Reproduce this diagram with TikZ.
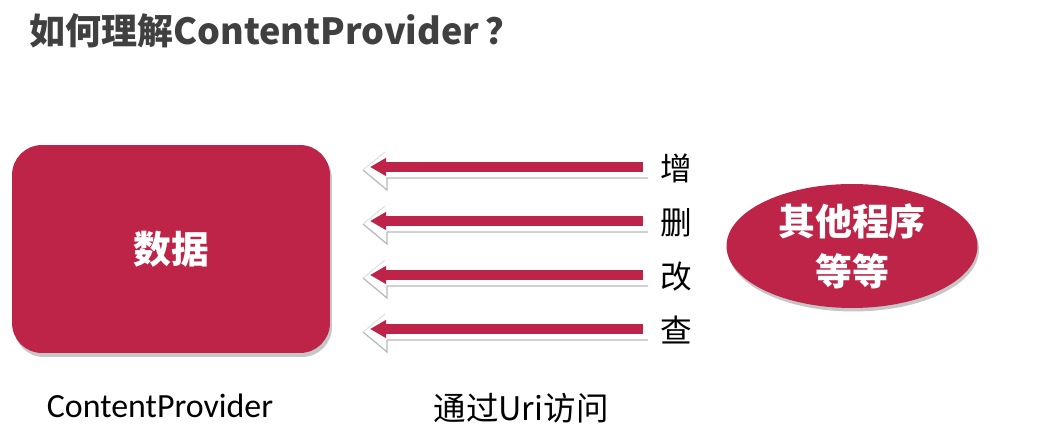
\documentclass[tikz,border=0pt]{standalone}
\usepackage{fontspec}
\setmainfont{Carlito}
\newfontfamily\cjk{Noto Sans CJK SC}
\usetikzlibrary{arrows.meta,shapes.geometric,shadows}
\definecolor{boxred}{RGB}{189,36,71}
\definecolor{titlegray}{RGB}{64,64,64}
\tikzset{
	databox/.style={draw=none,fill=boxred,rounded corners=0.6cm,minimum width=6.36cm,minimum height=4.16cm,
		text=white,font=\cjk\bfseries\fontsize{21.5}{26}\selectfont,
		drop shadow={shadow xshift=0.04cm,shadow yshift=-0.08cm,fill=gray!45,opacity=1}},
	otherbox/.style={ellipse,draw=none,fill=boxred,minimum width=5.02cm,minimum height=2.48cm,inner sep=0pt,
		text=white,align=center,font=\cjk\bfseries\fontsize{21}{28.5}\selectfont,
		drop shadow={shadow xshift=0.03cm,shadow yshift=-0.07cm,fill=gray!45,opacity=1}},
	oplabel/.style={font=\cjk\fontsize{18}{20}\selectfont,inner sep=0pt},
	oparrow/.style={draw=boxred,line width=0.2cm,-{Triangle[length=0.32cm,width=0.34cm]}},
	shadeline/.style={gray!55,line width=0.025cm},
	shadefaint/.style={gray!25,line width=0.02cm}
}
\begin{document}
\begin{tikzpicture}[x=0.02cm,y=-0.02cm]
	\useasboundingbox (0,0) rectangle (1040,445);

	\node[anchor=west,inner sep=0pt,text=titlegray,font=\cjk\bfseries\fontsize{20.5}{22}\selectfont] (title) at (29,31) {如何理解ContentProvider\,？};

	\node[databox] (data) at (171,249) {数据};
	\node[otherbox] (others) at (852,246) {其他程序\\等等};

	\node[oplabel] (add) at (676,168) {增};
	\node[oplabel] (del) at (676,223) {删};
	\node[oplabel] (upd) at (676,277) {改};
	\node[oplabel] (qry) at (676,330) {查};

	\draw[shadeline](648,178) -- (387,178) -- (387,190) -- (363,170);
	\draw[shadefaint](363,170) -- (385,152);
	\draw[shadeline](648,232) -- (387,232) -- (387,244) -- (363,224);
	\draw[shadefaint](363,224) -- (385,206);
	\draw[shadeline](648,286) -- (387,286) -- (387,298) -- (363,278);
	\draw[shadefaint](363,278) -- (385,260);
	\draw[shadeline](648,340) -- (387,340) -- (387,352) -- (363,332);
	\draw[shadefaint](363,332) -- (385,314);

	\coordinate (a1) at (643,167);
	\coordinate (b1) at (370,167);
	\coordinate (a2) at (643,221);
	\coordinate (b2) at (370,221);
	\coordinate (a3) at (643,275);
	\coordinate (b3) at (370,275);
	\coordinate (a4) at (643,329);
	\coordinate (b4) at (370,329);
	\draw[oparrow] (a1) -- (b1);
	\draw[oparrow] (a2) -- (b2);
	\draw[oparrow] (a3) -- (b3);
	\draw[oparrow] (a4) -- (b4);

	\node[inner sep=0pt,font=\fontsize{19.3}{22}\selectfont] (cp) at (160,406) {ContentProvider};
	\node[inner sep=0pt,font=\cjk\fontsize{18.5}{22}\selectfont] (uri) at (521,408) {通过Uri访问};
\end{tikzpicture}
\end{document}
